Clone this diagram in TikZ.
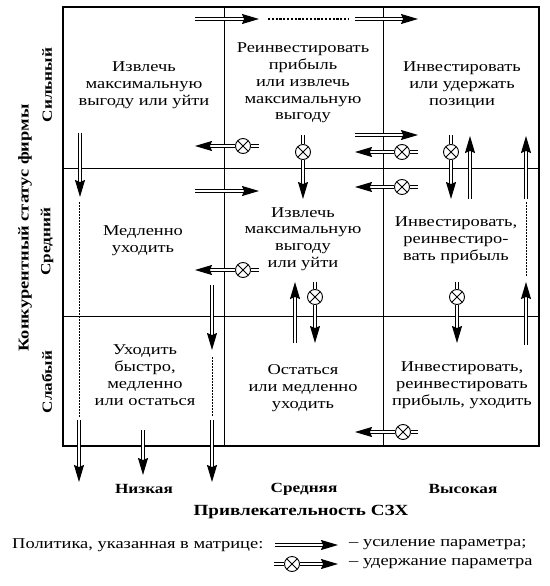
\documentclass[tikz,border=0pt]{standalone}
\usepackage{fontspec}
\setmainfont{Liberation Serif}[FakeStretch=1.23]
\usetikzlibrary{arrows.meta}

\begin{document}
\begin{tikzpicture}[x=1pt,y=-1pt,
    cell/.style={align=center,inner sep=0pt,font=\fontsize{15}{16.8}\selectfont},
    lab/.style={inner sep=0pt,font=\fontsize{14}{16.8}\selectfont\bfseries},
    gain/.style={double,double distance=2.2pt,line width=1.1pt,
        -{Stealth[length=17pt,width=10pt,inset=2pt]}},
    pipe/.style={double,double distance=2.2pt,line width=1.1pt},
    dots/.style={line width=0.7pt,dash pattern=on 1.5pt off 1.5pt},
    xcirc/.style={circle,draw,fill=white,minimum size=15pt,inner sep=0pt,line width=0.9pt,
        path picture={\draw[line width=0.8pt]
            (path picture bounding box.north west) -- (path picture bounding box.south east)
            (path picture bounding box.north east) -- (path picture bounding box.south west);}}]
    \useasboundingbox (0,0) rectangle (549,586);
    % matrix
    \draw[line width=0.8pt] (224,7)--(224,446);
    \draw[line width=0.8pt] (383,7)--(383,446);
    \draw[line width=0.8pt] (63,168)--(539,168);
    \draw[line width=0.8pt] (63,316)--(539,316);
    \draw[line width=2.2pt] (63,7) rectangle (539,446);
    % cells
    \node[cell] (c11) at (144,85) {Извлечь\\максимальную\\выгоду или уйти};
    \node[cell] (c12) at (303,83) {Реинвестировать\\прибыль\\или извлечь\\максимальную\\выгоду};
    \node[cell] (c13) at (462,85) {Инвестировать\\или удержать\\позиции};
    \node[cell] (c21) at (143,241) {Медленно\\уходить};
    \node[cell] (c22) at (303,239) {Извлечь\\максимальную\\выгоду\\или уйти};
    \node[cell] (c23) at (456,240) {Инвестировать,\\реинвестиро-\\вать прибыль};
    \node[cell] (c31) at (145,375) {Уходить\\быстро,\\медленно\\или остаться};
    \node[cell] (c32) at (303,388) {Остаться\\или медленно\\уходить};
    \node[cell] (c33) at (462,385) {Инвестировать,\\реинвестировать\\прибыль, уходить};
    % axes
    \node[lab,rotate=90,font=\fontsize{15}{18}\selectfont\bfseries] (ylab) at (25,228) {Конкурентный статус фирмы};
    \node[lab,rotate=90] (r1) at (47,85) {Сильный};
    \node[lab,rotate=90] (r2) at (47,242) {Средний};
    \node[lab,rotate=90] (r3) at (47,382) {Слабый};
    \node[lab] (k1) at (144,489) {Низкая};
    \node[lab] (k2) at (304,489) {Средняя};
    \node[lab] (k3) at (463,489) {Высокая};
    \node[lab,font=\fontsize{15.5}{19}\selectfont\bfseries] (xlab) at (301,512) {Привлекательность СЗХ};
    % strengthening
    \draw[gain] (195,19)--(259,19);
    \draw[line width=1.6pt,dash pattern=on 2.2pt off 1.6pt] (268,19)--(348,19);
    \draw[gain] (355,19)--(418,19);
    \draw[gain] (195,191)--(259,191);
    \draw[gain] (355,135)--(418,135);
    \draw[gain] (470,199)--(470,136);
    \draw[gain] (526,199)--(526,136);
    \draw[dots] (526,202)--(526,277);
    \draw[gain] (526,345)--(526,282);
    \draw[gain] (295,343)--(295,282);
    \draw[gain] (80,133)--(80,197);
    \draw[dots] (79,202)--(79,418);
    \draw[gain] (79,420)--(79,482);
    \draw[gain] (143,430)--(143,475);
    \draw[gain] (212,285)--(212,350);
    \draw[dots] (212,357)--(212,417);
    \draw[gain] (212,420)--(212,482);
    % holding
    \node[xcirc] (x1) at (243,146) {};
    \draw[pipe] (259,146)--(x1); \draw[gain] (x1)--(195,146);
    \node[xcirc] (x2) at (243,270) {};
    \draw[pipe] (259,270)--(x2); \draw[gain] (x2)--(195,270);
    \node[xcirc] (x3) at (402,152) {};
    \draw[pipe] (418,152)--(x3); \draw[gain] (x3)--(355,152);
    \node[xcirc] (x4) at (402,187) {};
    \draw[pipe] (418,187)--(x4); \draw[gain] (x4)--(355,187);
    \node[xcirc] (x5) at (303,152) {};
    \draw[pipe] (303,135)--(x5); \draw[gain] (x5)--(303,199);
    \node[xcirc] (x6) at (451,152) {};
    \draw[pipe] (451,135)--(x6); \draw[gain] (x6)--(451,199);
    \node[xcirc] (x7) at (315,297) {};
    \draw[pipe] (315,282)--(x7); \draw[gain] (x7)--(315,343);
    \node[xcirc] (x8) at (457,297) {};
    \draw[pipe] (457,282)--(x8); \draw[gain] (x8)--(457,343);
    \node[xcirc] (x9) at (403,432) {};
    \draw[pipe] (418,432)--(x9); \draw[gain] (x9)--(355,432);
    % legend
    \node[cell,anchor=west] (pol) at (12,545) {Политика, указанная в матрице:};
    \draw[gain] (275,545)--(338,545);
    \node[cell,anchor=west] (t1) at (349,545) {– усиление параметра;};
    \node[xcirc] (x10) at (292,564) {};
    \draw[pipe] (274,564)--(x10); \draw[gain] (x10)--(338,564);
    \node[cell,anchor=west] (t2) at (349,564) {– удержание параметра};
\end{tikzpicture}
\end{document}
